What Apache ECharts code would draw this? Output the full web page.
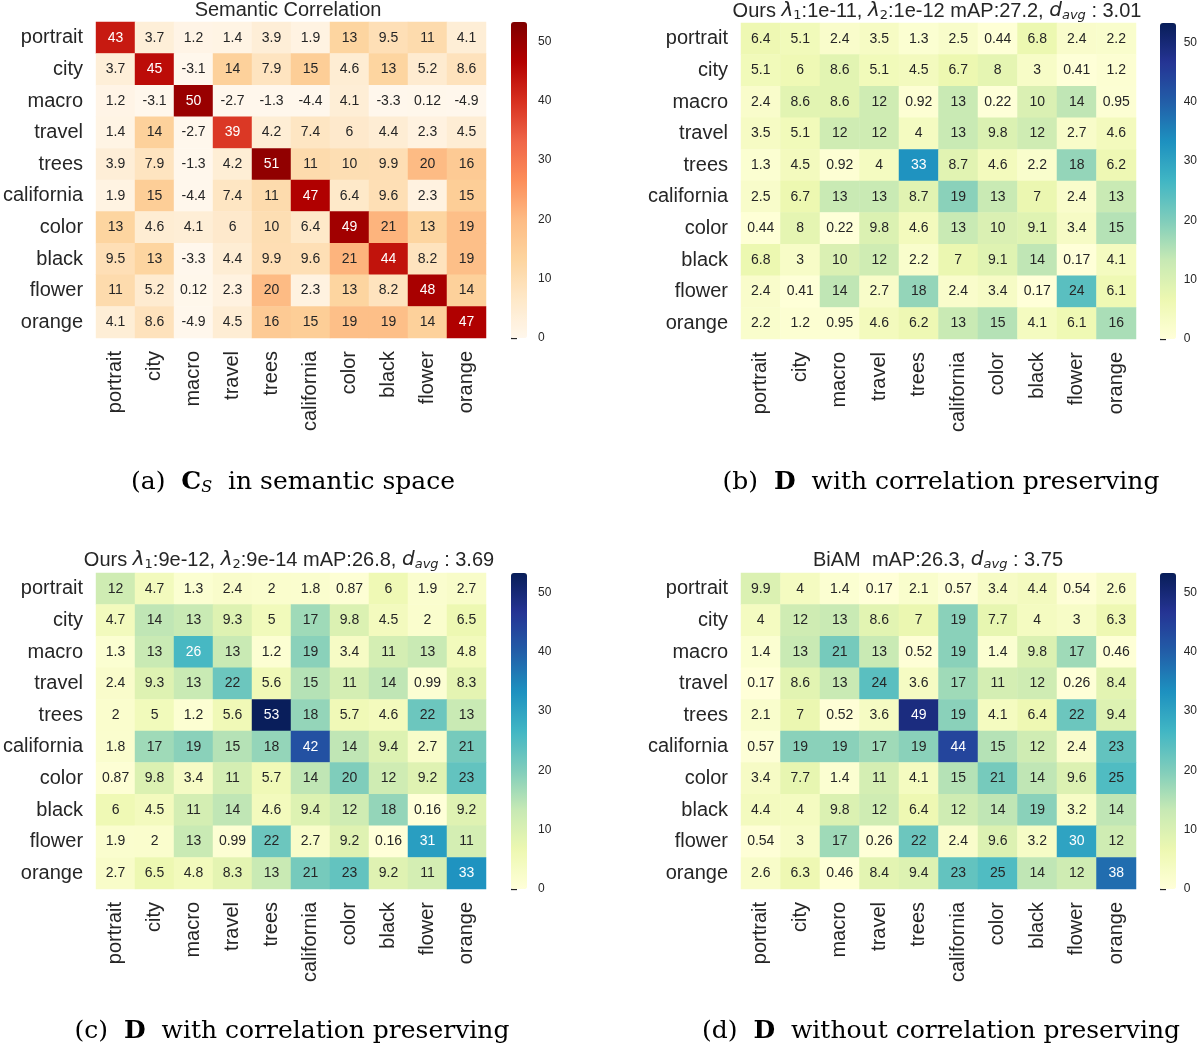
<!DOCTYPE html>
<html>
<head>
<meta charset="utf-8">
<script src="https://cdn.jsdelivr.net/npm/echarts@6/dist/echarts.min.js"></script>
<style>
  html, body { margin: 0; padding: 0; background: #fff; }
  #main { width: 1200px; height: 1046px; }
</style>
</head>
<body>
<div id="main"></div>
<script>
const labels = ['portrait', 'city', 'macro', 'travel', 'trees', 'california', 'color', 'black', 'flower', 'orange'];

// (a) C_S in semantic space
const semantic = [
  [43, 3.7, 1.2, 1.4, 3.9, 1.9, 13, 9.5, 11, 4.1],
  [3.7, 45, -3.1, 14, 7.9, 15, 4.6, 13, 5.2, 8.6],
  [1.2, -3.1, 50, -2.7, -1.3, -4.4, 4.1, -3.3, 0.12, -4.9],
  [1.4, 14, -2.7, 39, 4.2, 7.4, 6, 4.4, 2.3, 4.5],
  [3.9, 7.9, -1.3, 4.2, 51, 11, 10, 9.9, 20, 16],
  [1.9, 15, -4.4, 7.4, 11, 47, 6.4, 9.6, 2.3, 15],
  [13, 4.6, 4.1, 6, 10, 6.4, 49, 21, 13, 19],
  [9.5, 13, -3.3, 4.4, 9.9, 9.6, 21, 44, 8.2, 19],
  [11, 5.2, 0.12, 2.3, 20, 2.3, 13, 8.2, 48, 14],
  [4.1, 8.6, -4.9, 4.5, 16, 15, 19, 19, 14, 47]
];

// (b) D with correlation preserving, lambda1 1e-11
const oursB = [
  [6.4, 5.1, 2.4, 3.5, 1.3, 2.5, 0.44, 6.8, 2.4, 2.2],
  [5.1, 6, 8.6, 5.1, 4.5, 6.7, 8, 3, 0.41, 1.2],
  [2.4, 8.6, 8.6, 12, 0.92, 13, 0.22, 10, 14, 0.95],
  [3.5, 5.1, 12, 12, 4, 13, 9.8, 12, 2.7, 4.6],
  [1.3, 4.5, 0.92, 4, 33, 8.7, 4.6, 2.2, 18, 6.2],
  [2.5, 6.7, 13, 13, 8.7, 19, 13, 7, 2.4, 13],
  [0.44, 8, 0.22, 9.8, 4.6, 13, 10, 9.1, 3.4, 15],
  [6.8, 3, 10, 12, 2.2, 7, 9.1, 14, 0.17, 4.1],
  [2.4, 0.41, 14, 2.7, 18, 2.4, 3.4, 0.17, 24, 6.1],
  [2.2, 1.2, 0.95, 4.6, 6.2, 13, 15, 4.1, 6.1, 16]
];

// (c) D with correlation preserving, lambda1 9e-12
const oursC = [
  [12, 4.7, 1.3, 2.4, 2, 1.8, 0.87, 6, 1.9, 2.7],
  [4.7, 14, 13, 9.3, 5, 17, 9.8, 4.5, 2, 6.5],
  [1.3, 13, 26, 13, 1.2, 19, 3.4, 11, 13, 4.8],
  [2.4, 9.3, 13, 22, 5.6, 15, 11, 14, 0.99, 8.3],
  [2, 5, 1.2, 5.6, 53, 18, 5.7, 4.6, 22, 13],
  [1.8, 17, 19, 15, 18, 42, 14, 9.4, 2.7, 21],
  [0.87, 9.8, 3.4, 11, 5.7, 14, 20, 12, 9.2, 23],
  [6, 4.5, 11, 14, 4.6, 9.4, 12, 18, 0.16, 9.2],
  [1.9, 2, 13, 0.99, 22, 2.7, 9.2, 0.16, 31, 11],
  [2.7, 6.5, 4.8, 8.3, 13, 21, 23, 9.2, 11, 33]
];

// (d) BiAM, without correlation preserving
const biam = [
  [9.9, 4, 1.4, 0.17, 2.1, 0.57, 3.4, 4.4, 0.54, 2.6],
  [4, 12, 13, 8.6, 7, 19, 7.7, 4, 3, 6.3],
  [1.4, 13, 21, 13, 0.52, 19, 1.4, 9.8, 17, 0.46],
  [0.17, 8.6, 13, 24, 3.6, 17, 11, 12, 0.26, 8.4],
  [2.1, 7, 0.52, 3.6, 49, 19, 4.1, 6.4, 22, 9.4],
  [0.57, 19, 19, 17, 19, 44, 15, 12, 2.4, 23],
  [3.4, 7.7, 1.4, 11, 4.1, 15, 21, 14, 9.6, 25],
  [4.4, 4, 9.8, 12, 6.4, 12, 14, 19, 3.2, 14],
  [0.54, 3, 17, 0.26, 22, 2.4, 9.6, 3.2, 30, 12],
  [2.6, 6.3, 0.46, 8.4, 9.4, 23, 25, 14, 12, 38]
];

const colorbarTicks = [0, 10, 20, 30, 40, 50];

const orRd = ['#fff7ec', '#fee8c8', '#fdd49e', '#fdbb84', '#fc8d59', '#ef6548', '#d7301f', '#b30000', '#7f0000'];
const ylGnBu = ['#ffffd9', '#edf8b1', '#c7e9b4', '#7fcdbb', '#41b6c4', '#1d91c0', '#225ea8', '#253494', '#081d58'];

const vmax = 53.3;
const textColor = '#262626';
const sans = 'Liberation Sans, Arial, sans-serif';
const serif = 'DejaVu Serif, serif';

// panel layout: heatmap box + colorbar box
const panels = [
  { mat: semantic, cmap: orRd, light: 30, hm: { left: 91, top: 22 }, cb: { left: 511, top: 22 } },
  { mat: oursB, cmap: ylGnBu, light: 25.5, hm: { left: 741, top: 23 }, cb: { left: 1160, top: 23 } },
  { mat: oursC, cmap: ylGnBu, light: 25.5, hm: { left: 91, top: 573 }, cb: { left: 511, top: 573 } },
  { mat: biam, cmap: ylGnBu, light: 25.5, hm: { left: 741, top: 573 }, cb: { left: 1160, top: 573 } }
];
const hmW = 395, hmH = 316, cbW = 16;

function toData(mat, light) {
  const out = [];
  mat.forEach((row, r) => {
    row.forEach((v, c) => {
      out.push({ value: [c, r, v], label: { color: v > light ? '#ffffff' : textColor } });
    });
  });
  return out;
}

const grid = [], xAxis = [], yAxis = [], series = [], visualMap = [];

panels.forEach((p, i) => {
  grid.push({ left: p.hm.left, top: p.hm.top, width: hmW, height: hmH });
  xAxis.push({
    type: 'category', gridIndex: i, data: labels,
    axisLine: { show: false }, axisTick: { show: false }, splitArea: { show: false },
    axisLabel: { rotate: 90, interval: 0, margin: 13, fontSize: 20, color: textColor, fontFamily: sans }
  });
  yAxis.push({
    type: 'category', gridIndex: i, data: labels, inverse: true,
    axisLine: { show: false }, axisTick: { show: false }, splitArea: { show: false },
    axisLabel: { interval: 0, margin: 13, fontSize: 20, color: textColor, fontFamily: sans }
  });
  series.push({
    type: 'heatmap', xAxisIndex: i, yAxisIndex: i,
    data: toData(p.mat, p.light),
    label: {
      show: true, fontSize: 14, fontFamily: sans,
      formatter: (d) => String(d.value[2])
    },
    itemStyle: { borderWidth: 0 },
    emphasis: { disabled: true }
  });
  visualMap.push({
    type: 'continuous', seriesIndex: i, dimension: 2,
    min: 0, max: vmax, calculable: false, hoverLink: false,
    orient: 'vertical', left: p.cb.left, top: p.cb.top,
    itemWidth: cbW, itemHeight: hmH, padding: 0,
    inRange: { color: p.cmap },
    outOfRange: { color: p.cmap[0] }
  });
});

// colorbar axes
panels.forEach((p, i) => {
  grid.push({ left: p.cb.left, top: p.cb.top, width: cbW, height: hmH });
  xAxis.push({ type: 'value', gridIndex: 4 + i, show: false });
  yAxis.push({
    type: 'value', gridIndex: 4 + i, min: 0, max: vmax, position: 'right',
    axisLine: { show: false }, splitLine: { show: false },
    axisTick: { show: true, length: 6, customValues: colorbarTicks, lineStyle: { color: textColor, width: 1.3 } },
    axisLabel: { customValues: colorbarTicks, margin: 11, fontSize: 12, color: textColor, fontFamily: sans }
  });
});

const subStyles = {
  i: { fontStyle: 'italic', fontFamily: 'DejaVu Sans', fontSize: 20, color: textColor, verticalAlign: 'middle' },
  s: { fontSize: 13, fontFamily: 'DejaVu Sans', color: textColor, lineHeight: 12, verticalAlign: 'bottom' },
  si: { fontSize: 13, fontStyle: 'italic', fontFamily: 'DejaVu Sans', color: textColor, lineHeight: 12, verticalAlign: 'bottom' }
};

function plotTitle(text, cx, top) {
  return {
    text: text, left: cx, top: top, textAlign: 'center', padding: 0,
    textStyle: { fontSize: 20, fontWeight: 'normal', color: textColor, fontFamily: sans, lineHeight: 22, rich: subStyles }
  };
}

const capStyles = {
  b: { fontWeight: 'bold', fontFamily: serif, fontSize: 25, color: '#000' },
  s: { fontStyle: 'italic', fontFamily: serif, fontSize: 16, color: '#000', lineHeight: 14, verticalAlign: 'bottom' }
};

function caption(text, cx, top) {
  return {
    text: text, left: cx, top: top, textAlign: 'center', padding: 0,
    textStyle: { fontSize: 25, fontWeight: 'normal', color: '#000', fontFamily: serif, lineHeight: 28, rich: capStyles }
  };
}

const title = [
  plotTitle('Semantic Correlation', 288, -1),
  plotTitle('Ours {i|λ}{s|1}:1e-11, {i|λ}{s|2}:1e-12 mAP:27.2, {i|d}{si|avg} : 3.01', 937, 0),
  plotTitle('Ours {i|λ}{s|1}:9e-12, {i|λ}{s|2}:9e-14 mAP:26.8, {i|d}{si|avg} : 3.69', 289, 549),
  plotTitle('BiAM  mAP:26.3, {i|d}{si|avg} : 3.75', 938, 549),
  caption('(a)  {b|C}{s|S}  in semantic space', 293, 468),
  caption('(b)  {b|D}  with correlation preserving', 941, 468),
  caption('(c)  {b|D}  with correlation preserving', 292, 1017),
  caption('(d)  {b|D}  without correlation preserving', 941, 1017)
];

const chart = echarts.init(document.getElementById('main'), null, { renderer: 'canvas' });
chart.setOption({
  backgroundColor: '#ffffff',
  animation: false,
  title: title,
  tooltip: { show: false },
  grid: grid,
  xAxis: xAxis,
  yAxis: yAxis,
  visualMap: visualMap,
  series: series
});
</script>
</body>
</html>
